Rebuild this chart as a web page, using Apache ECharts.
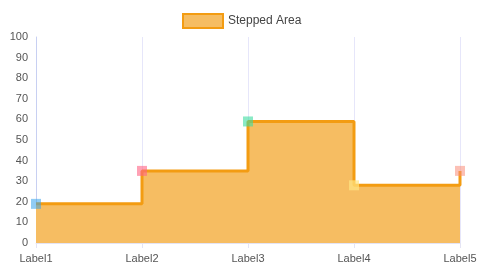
<!DOCTYPE html>
<html>
<head>
<meta charset="utf-8">
<script src="https://cdn.jsdelivr.net/npm/echarts@6/dist/echarts.min.js"></script>
<style>
  html, body { margin: 0; padding: 0; background: #fff; }
  #chart { width: 500px; height: 279px; }
</style>
</head>
<body>
<div id="chart"></div>
<script>
// data
var labels = ["Label1", "Label2", "Label3", "Label4", "Label5"];
var values = [19, 35, 59, 28, 35];
var pointColors = [
  "rgba(54,162,235,0.55)",
  "rgba(255,99,132,0.6)",
  "rgba(60,220,160,0.6)",
  "rgba(255,230,130,0.7)",
  "rgba(250,140,120,0.55)"
];
var yTicks = { min: 0, max: 100, step: 10 };

var myChart = echarts.init(document.getElementById("chart"));
var font = "Liberation Sans";

var points = values.map(function (v, i) {
  return { value: v, itemStyle: { color: pointColors[i] } };
});

var option = {
  animation: false,
  textStyle: { fontFamily: font },
  legend: {
    top: 8,
    left: 177,
    itemWidth: 40,
    itemHeight: 14,
    itemGap: 6,
    textStyle: { color: "#444", fontSize: 12, fontFamily: font },
    data: [
      {
        name: "Stepped Area",
        icon: "rect",
        itemStyle: { color: "#f6bd62", borderColor: "#f39c12", borderWidth: 2 }
      }
    ]
  },
  grid: { left: 36, right: 40, top: 37, bottom: 36 },
  xAxis: {
    type: "category",
    data: labels,
    boundaryGap: false,
    axisLine: { lineStyle: { color: "#e4e4f4" } },
    axisTick: { lineStyle: { color: "#e4e4f4" }, length: 5 },
    axisLabel: { color: "#555", fontSize: 11, margin: 10 },
    splitLine: { show: true, lineStyle: { color: "#e6e6fa" } }
  },
  yAxis: {
    type: "value",
    min: yTicks.min,
    max: yTicks.max,
    interval: yTicks.step,
    axisLine: { show: true, lineStyle: { color: "#c8d0f2" } },
    axisTick: { show: false },
    axisLabel: { color: "#555", fontSize: 11, margin: 8 },
    splitLine: { show: false }
  },
  series: [
    {
      name: "Stepped Area",
      type: "line",
      step: "end",
      data: points,
      symbol: "rect",
      symbolSize: 10,
      lineStyle: { color: "#f39c12", width: 3 },
      areaStyle: { color: "#f6bd62", opacity: 1 },
      itemStyle: { color: "#f39c12" },
      z: 2
    }
  ]
};

myChart.setOption(option);
</script>
</body>
</html>
